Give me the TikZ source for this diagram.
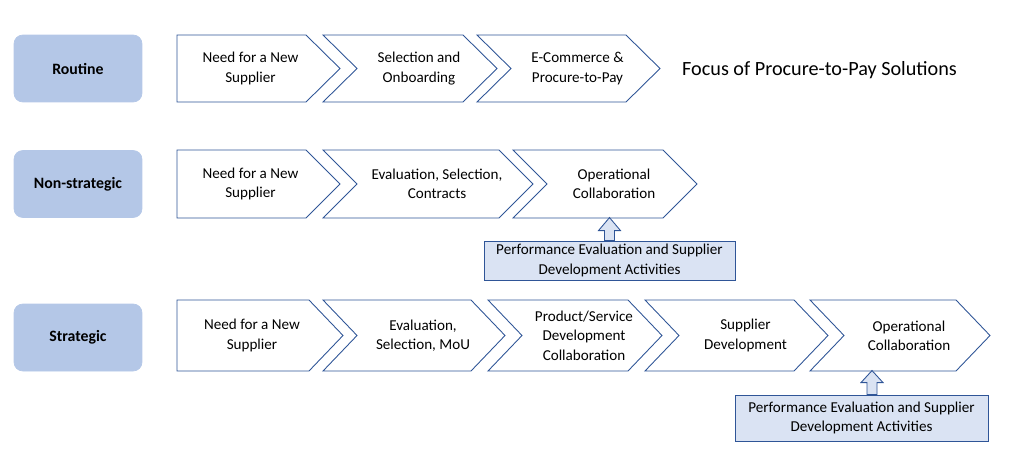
\documentclass[tikz,border=0pt]{standalone}
\usepackage{fontspec}
\setmainfont{Carlito}
\definecolor{edgeblue}{HTML}{2F5597}
\definecolor{rowblue}{HTML}{B4C7E7}
\definecolor{noteblue}{HTML}{DAE3F3}
% chevron: name, left x, tip x, top y, bottom y, notch (0 = flat left), text
\newcommand{\chevron}[7]{%
  \draw [stage] (#2, #4) -- (#3-34, #4) -- (#3, #4/2+#5/2) -- (#3-34, #5)
        -- (#2, #5) -- (#2+#6, #4/2+#5/2) -- cycle;
  \node [stagetext] (#1) at (#2/2+#3/2+#6/2-8, #4/2+#5/2) {#7};}
\begin{document}
\begin{tikzpicture}[x = 0.02cm, y = -0.02cm,
    stage/.style = {draw = edgeblue, line width = 0.5pt, fill = white},
    stagetext/.style = {align = center, font = \fontsize{8.6}{11}\selectfont},
    rowlabel/.style = {draw = rowblue, fill = rowblue, rounded corners = 5pt, minimum width = 2.56cm, minimum height = 1.34cm, font = \fontsize{9}{11}\selectfont\bfseries},
    note/.style = {draw = edgeblue, fill = noteblue, line width = 0.5pt, align = center, font = \fontsize{8.6}{11}\selectfont, inner sep = 0pt},
    blockarrow/.style = {draw = edgeblue, fill = noteblue, line width = 0.5pt}]
    \useasboundingbox (0, 0) rectangle (1029, 471);
    % row labels
    \node [rowlabel] (routine) at (78, 68.5) {Routine};
    \node [rowlabel] (nonstrat) at (78, 184) {Non-strategic};
    \node [rowlabel] (strat) at (78, 337.5) {Strategic};
    % routine
    \chevron{r1}{177}{340}{35}{102}{0}{Need for a New\\Supplier}
    \chevron{r2}{323}{497}{35}{102}{34}{Selection and\\Onboarding}
    \chevron{r3}{477}{660}{35}{102}{34}{E-Commerce \&\\Procure-to-Pay}
    \node [anchor = west, font = \fontsize{11.5}{14}\selectfont] (focus) at (676, 70) {Focus of Procure-to-Pay Solutions};
    % non-strategic
    \chevron{n1}{177}{340}{150}{218}{0}{Need for a New\\Supplier}
    \chevron{n2}{323}{533}{150}{218}{34}{Evaluation, Selection,\\Contracts}
    \chevron{n3}{513}{697}{150}{218}{34}{Operational\\Collaboration}
    \node [note, minimum width = 5.02cm, minimum height = 0.78cm] (nperf) at (609.5, 260.5) {Performance Evaluation and Supplier\\Development Activities};
    \draw [blockarrow] (nperf.north) ++(-5, 0) -- ++(0, -10) -- ++(-6, 0) -- ++(11, -13) -- ++(11, 13) -- ++(-6, 0) -- ++(0, 10) -- cycle;
    % strategic
    \chevron{s1}{177}{343}{300}{371}{0}{Need for a New\\Supplier}
    \chevron{s2}{323}{505}{300}{371}{34}{Evaluation,\\Selection, MoU}
    \chevron{s3}{488}{662}{300}{371}{34}{Product/Service\\Development\\Collaboration}
    \chevron{s4}{645}{828}{300}{371}{34}{Supplier\\Development}
    \chevron{s5}{810}{990}{300}{371}{34}{Operational\\Collaboration}
    \node [note, minimum width = 5.06cm, minimum height = 0.92cm] (sperf) at (861.5, 418) {Performance Evaluation and Supplier\\Development Activities};
    \draw [blockarrow] (sperf.north) ++(5.5, 0) -- ++(0, -12) -- ++(-6, 0) -- ++(11, -12) -- ++(11, 12) -- ++(-6, 0) -- ++(0, 12) -- cycle;
\end{tikzpicture}
\end{document}
